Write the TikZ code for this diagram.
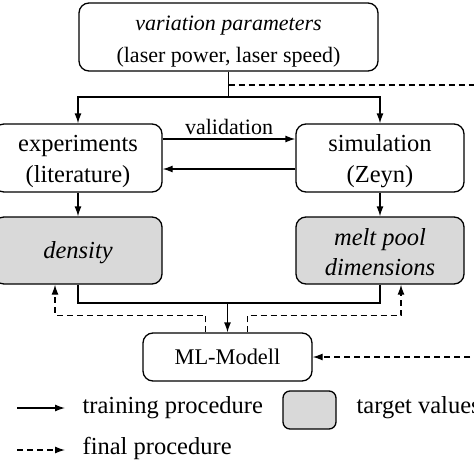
\documentclass[tikz,border=0pt]{standalone}
\usepackage{fontspec}
\setmainfont{Liberation Serif}
\usetikzlibrary{arrows.meta}
\begin{document}
\begin{tikzpicture}[x=1pt,y=-1pt,>={Latex[length=10pt,width=7pt]},line width=1.3pt]
            \tikzstyle{box}=[draw, rounded corners=10pt, inner sep=0pt, minimum width=168pt, minimum height=68pt]
            \tikzstyle{target}=[box, fill=gray!30, minimum height=67pt]
            \tikzstyle{boxtext}=[inner sep=0pt, align=center, font=\fontsize{24.5}{31}\selectfont]
            \tikzstyle{final}=[dash pattern=on 6pt off 4pt]
            \tikzstyle{legendtext}=[font=\fontsize{24.5}{30}\selectfont, inner sep=0pt, anchor=west]
            \useasboundingbox (0,0) rectangle (474,474);
            \clip (0,0) rectangle (474,474);
            \node[box, minimum width=299pt] (par) at (228.5,37) {};
            \node[box] (exp) at (78,158) {};
            \node[box] (sim) at (380,158) {};
            \node[target] (dens) at (78,250.5) {};
            \node[target] (melt) at (380,250.5) {};
            \node[box, minimum width=169pt, minimum height=48pt] (ml) at (227.5,357) {};
            \node[boxtext, font=\fontsize{22}{32}\selectfont] (partext) at ([yshift=-5pt]par.center) {\textit{variation parameters}\\(laser power, laser speed)};
            \node[boxtext] (exptext) at ([yshift=-3pt]exp.center) {experiments\\(literature)};
            \node[boxtext] (simtext) at ([yshift=-3pt]sim.center) {simulation\\(Zeyn)};
            \node[boxtext] (denstext) at ([yshift=-2pt]dens.center) {\textit{density}};
            \node[boxtext, font=\fontsize{24.5}{30}\selectfont] (melttext) at ([yshift=-2pt]melt.center) {\textit{melt pool}\\\textit{dimensions}};
            \node[boxtext, font=\fontsize{22.4}{30}\selectfont] (mltext) at (ml.center) {ML-Modell};
            \coordinate (split) at (228.5,97);
            \coordinate (tap) at (228.5,85);
            \coordinate (tapend) at (480,85);
            \coordinate (merge) at (227.5,303);
            \coordinate (mlin) at (480,357);
            % training procedure
            \draw (par.south) -- (split);
            \draw[->] (split) -| (exp.north);
            \draw[->] (split) -| (sim.north);
            \draw[->] ([yshift=19pt]exp.east) -- node[above=4pt, inner sep=0pt, font=\fontsize{22}{30}\selectfont] {validation} ([yshift=19pt]sim.west);
            \draw[->] ([yshift=-11pt]sim.west) -- ([yshift=-11pt]exp.east);
            \draw[->] (exp.south) -- (dens.north);
            \draw[->] (sim.south) -- (melt.north);
            \draw (dens.south) |- (merge) -| (melt.south);
            \draw[->] (merge) -- (ml.north);
            % final procedure
            \draw[final] (tap) -- (tapend);
            \draw[final,->] ([xshift=-22pt]ml.north) -- ++(0,-17) -| ([xshift=-23pt]dens.south);
            \draw[final,->] ([xshift=20pt]ml.north) -- ++(0,-17) -| ([xshift=21pt]melt.south);
            \draw[final,->] (mlin) -- (ml.east);
            % legend
            \coordinate (la) at (17,408);
            \coordinate (lb) at (65,408);
            \coordinate (lc) at (17,450);
            \coordinate (ld) at (65,450);
            \draw[->] (la) -- (lb);
            \node[legendtext] (ltrain) at (82,408) {training procedure};
            \node[target, minimum width=53pt, minimum height=38pt, rounded corners=7pt] (lbox) at (309.5,410) {};
            \node[legendtext] (ltarget) at (356,408) {target values};
            \draw[final,->] (lc) -- (ld);
            \node[legendtext] (lfinal) at (82,448) {final procedure};
        \end{tikzpicture}
\end{document}
